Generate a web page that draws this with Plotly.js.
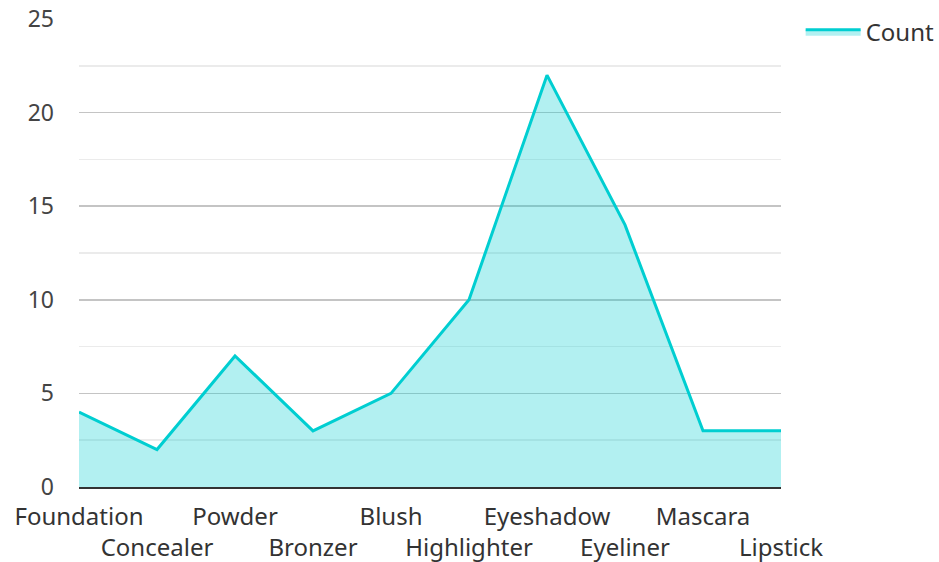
<!DOCTYPE html>
<html>
<head>
<meta charset="utf-8">
<script src="https://cdn.plot.ly/plotly-3.0.1.min.js"></script>
<style>html,body{margin:0;padding:0;background:#fff;}#chart{width:939px;height:562px;}</style>
</head>
<body>
<div id="chart"></div>
<script>
var categories = ["Foundation", "Concealer", "Powder", "Bronzer", "Blush", "Highlighter", "Eyeshadow", "Eyeliner", "Mascara", "Lipstick"];
var counts = [4, 2, 7, 3, 5, 10, 22, 14, 3, 3];
var yTicks = [0, 5, 10, 15, 20, 25];

var tickText = categories.map(function (c, i) { return i % 2 === 0 ? c : "<br>" + c; });

var trace = {
  x: categories,
  y: counts,
  type: "scatter",
  mode: "lines",
  name: "Count",
  fill: "tozeroy",
  fillcolor: "rgba(0,206,209,0.3)",
  line: { color: "#00CED1", width: 3 }
};

var layout = {
  width: 939,
  height: 562,
  margin: { l: 79, r: 158, t: 19, b: 75, autoexpand: false },
  paper_bgcolor: "#ffffff",
  plot_bgcolor: "#ffffff",
  font: { family: "Noto Sans, sans-serif", size: 24, color: "#333333" },
  showlegend: true,
  legend: { x: 1.028, y: 1.02, xanchor: "left", yanchor: "top", itemwidth: 55, font: { size: 24, color: "#333333" } },
  xaxis: {
    type: "category",
    range: [0, categories.length - 1],
    tickmode: "array",
    tickvals: categories,
    ticktext: tickText,
    tickangle: 0,
    showgrid: false,
    showline: true,
    linecolor: "#333333",
    linewidth: 2,
    ticks: "",
    ticklabelstandoff: 7,
    tickfont: { size: 24, color: "#333333" }
  },
  yaxis: {
    range: [0, 25],
    tickmode: "array",
    tickvals: yTicks,
    showgrid: true,
    gridcolor: "#c4c4c4",
    gridwidth: 1.5,
    zeroline: false,
    showline: false,
    ticks: "",
    ticklabelstandoff: 24,
    tickfont: { size: 23, color: "#444444" },
    minor: { dtick: 2.5, tick0: 0, showgrid: true, gridcolor: "#ebebeb", gridwidth: 1.5 }
  }
};

Plotly.newPlot("chart", [trace], layout, { displayModeBar: false, staticPlot: true });
</script>
</body>
</html>
